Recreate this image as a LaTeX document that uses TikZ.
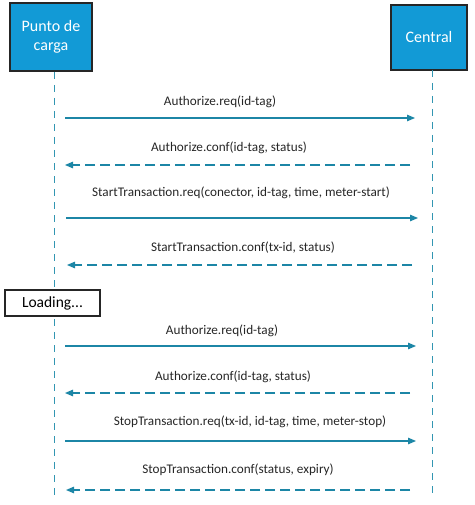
\documentclass[tikz,border=0pt]{standalone}
\usepackage{fontspec}
\setmainfont{Carlito}
\usepackage{xcolor}
\usetikzlibrary{arrows.meta}
\definecolor{boxblue}{RGB}{18,154,214}
\definecolor{msgteal}{RGB}{28,134,166}
\definecolor{lifeteal}{RGB}{50,150,178}

\begin{document}
\begin{tikzpicture}[x=1pt, y=-1pt, >={Triangle[length=8pt,width=6.5pt]},
  actor/.style={draw=black!85, line width=1.6pt, fill=boxblue, text=white,
    font=\fontsize{16}{19}\selectfont, align=center, inner sep=0pt},
  lifeline/.style={lifeteal, line width=1pt, dash pattern=on 7pt off 6pt},
  msg/.style={msgteal, line width=1.2pt, ->},
  reply/.style={msg, dash pattern=on 10pt off 5pt},
  msglabel/.style={font=\fontsize{13.2}{15}\selectfont, text=black!85, inner sep=0pt}]
  \useasboundingbox (0,0) rectangle (474,505);
  % participants
  \node[actor, minimum width=82pt, minimum height=68pt] (pc) at (51,37) {Punto de\\carga};
  \node[actor, minimum width=76pt, minimum height=65pt] (central) at (429,37.5) {Central};
  % lifelines
  \coordinate (pctop) at (54,72);
  \coordinate (pcbot) at (54,497);
  \coordinate (cetop) at (432,70);
  \coordinate (cebot) at (432,497);
  \draw[lifeline] (pctop) -- (pcbot);
  \draw[lifeline] (cetop) -- (cebot);
  % first authorization and start
  \coordinate (a1s) at (65,118);  \coordinate (a1e) at (415,118);
  \coordinate (c1s) at (410,165); \coordinate (c1e) at (65,165);
  \coordinate (s1s) at (66,218);  \coordinate (s1e) at (418,218);
  \coordinate (t1s) at (412,265); \coordinate (t1e) at (67,265);
  \draw[msg] (a1s) -- (a1e);
  \node[msglabel] (a1) at (220,102) {Authorize.req(id-tag)};
  \draw[reply] (c1s) -- (c1e);
  \node[msglabel] (c1) at (229,148) {Authorize.conf(id-tag, status)};
  \draw[msg] (s1s) -- (s1e);
  \node[msglabel] (s1) at (241,193) {StartTransaction.req(conector, id-tag, time, meter-start)};
  \draw[reply] (t1s) -- (t1e);
  \node[msglabel] (t1) at (243,248) {StartTransaction.conf(tx-id, status)};
  % loading
  \node[draw=black!85, line width=1.3pt, fill=white, minimum width=95pt, minimum height=26pt,
    font=\fontsize{15.5}{18}\selectfont, inner sep=0pt] (loading) at (52.5,303) {Loading...};
  % second authorization and stop
  \coordinate (a2s) at (65,346);  \coordinate (a2e) at (416,346);
  \coordinate (c2s) at (410,393); \coordinate (c2e) at (65,393);
  \coordinate (p2s) at (65,441);  \coordinate (p2e) at (416,441);
  \coordinate (x2s) at (410,490); \coordinate (x2e) at (66,490);
  \draw[msg] (a2s) -- (a2e);
  \node[msglabel] (a2) at (222,331) {Authorize.req(id-tag)};
  \draw[reply] (c2s) -- (c2e);
  \node[msglabel] (c2) at (233,377) {Authorize.conf(id-tag, status)};
  \draw[msg] (p2s) -- (p2e);
  \node[msglabel] (p2) at (250,422) {StopTransaction.req(tx-id, id-tag, time, meter-stop)};
  \draw[reply] (x2s) -- (x2e);
  \node[msglabel] (x2) at (238,470) {StopTransaction.conf(status, expiry)};
\end{tikzpicture}
\end{document}
